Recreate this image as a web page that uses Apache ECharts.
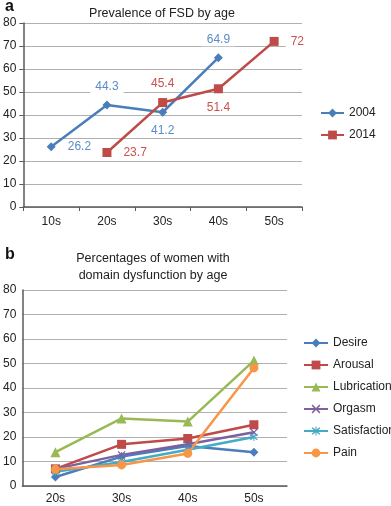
<!DOCTYPE html>
<html>
<head>
<meta charset="utf-8">
<script src="https://cdn.jsdelivr.net/npm/echarts@6/dist/echarts.min.js"></script>
<style>
  html, body { margin: 0; padding: 0; background: #fff; }
  #chart { width: 391px; height: 506px; }
</style>
</head>
<body>
<div id="chart"></div>
<script>
// chart a
const agesA = ['10s', '20s', '30s', '40s', '50s']
const fsd2004 = [26.2, 44.3, 41.2, 64.9, null]
const fsd2014 = [null, 23.7, 45.4, 51.4, 72]
const lblPos2004 = ['right', 'top', 'bottom', 'top', 'top']
const lblPos2014 = ['right', 'right', 'top', 'bottom', 'right']

// chart b
const agesB = ['20s', '30s', '40s', '50s']
const desire = [3.7, 12, 16.3, 13.8]
const arousal = [7, 17, 19.4, 25]
const lubrication = [13.8, 27.6, 26.3, 51.2]
const orgasm = [7, 12.7, 17, 21.9]
const satisfaction = [5.8, 9.8, 14.8, 20]
const pain = [6.8, 8.6, 13.3, 48.2]

const yTicks = [0, 10, 20, 30, 40, 50, 60, 70, 80]

const font = 'Liberation Sans, Arial, sans-serif'
const xMark = 'path://M0,1.2L1.2,0L5,3.8L8.8,0L10,1.2L6.2,5L10,8.8L8.8,10L5,6.2L1.2,10L0,8.8L3.8,5Z'
const starMark = 'path://M0,1.2L1.2,0L5,3.8L8.8,0L10,1.2L6.2,5L10,8.8L8.8,10L5,6.2L1.2,10L0,8.8L3.8,5Z' +
  'M4.4,-1L5.6,-1L5.6,11L4.4,11Z'

const chart = echarts.init(document.getElementById('chart'))

const withLabels = (vals, pos) => vals.map((v, i) => v == null ? '-' : {
  value: v,
  label: {position: pos[i]}
})

const lineA = (name, vals, pos, color, lblColor, symbol, size) => ({
  name: name,
  type: 'line',
  xAxisIndex: 0,
  yAxisIndex: 0,
  data: withLabels(vals, pos),
  symbol: symbol,
  symbolSize: size,
  color: color,
  lineStyle: {width: 2.5, color: color},
  itemStyle: {color: color},
  label: {
    show: true,
    color: lblColor,
    fontSize: 12,
    fontFamily: font,
    distance: 7,
    backgroundColor: '#fff',
    padding: [1, 5]
  },
  emphasis: {disabled: true}
})

const lineB = (name, vals, color, symbol, size) => ({
  name: name,
  type: 'line',
  xAxisIndex: 1,
  yAxisIndex: 1,
  data: vals,
  symbol: symbol,
  symbolSize: size,
  color: color,
  lineStyle: {width: 2.5, color: color},
  itemStyle: {color: color},
  emphasis: {disabled: true}
})

const yAxisBase = (grid, tick) => ({
  type: 'value',
  gridIndex: grid,
  min: yTicks[0],
  max: yTicks[yTicks.length - 1],
  interval: yTicks[1] - yTicks[0],
  axisLine: {show: true, lineStyle: {color: '#5a5a5a', width: 1.5}},
  axisTick: {show: tick, length: 4, lineStyle: {color: '#5a5a5a'}},
  axisLabel: {color: '#222', fontSize: 12, fontFamily: font, margin: tick ? 7 : 6},
  splitLine: {lineStyle: {color: '#b0b0b0', width: 1}}
})

const legendBase = {
  orient: 'vertical',
  padding: 0,
  itemHeight: 11,
  itemGap: 10,
  itemStyle: {borderWidth: 0},
  textStyle: {fontSize: 12, color: '#222', fontFamily: font}
}

chart.setOption({
  animation: false,
  title: [
    {text: 'a', left: 0, top: -6, textStyle: {fontSize: 16, fontWeight: 'bold', color: '#111', fontFamily: font}},
    {text: 'Prevalence of FSD by age', left: 157, top: 2, textAlign: 'center',
      textStyle: {fontSize: 12.5, fontWeight: 'normal', color: '#222', fontFamily: font}},
    {text: 'b', left: 0, top: 242, textStyle: {fontSize: 16, fontWeight: 'bold', color: '#111', fontFamily: font}},
    {text: 'Percentages of women with\ndomain dysfunction by age', left: 148, top: 245, textAlign: 'center',
      textStyle: {fontSize: 12.5, fontWeight: 'normal', color: '#222', fontFamily: font, lineHeight: 17}}
  ],
  legend: [
    Object.assign({}, legendBase, {
      data: ['2004', '2014'],
      left: 320,
      top: 107,
      itemWidth: 23
    }),
    Object.assign({}, legendBase, {
      data: ['Desire', 'Arousal', 'Lubrication', 'Orgasm', 'Satisfaction', 'Pain'],
      left: 303,
      top: 337,
      itemWidth: 24
    })
  ],
  grid: [
    {left: 23, top: 23, width: 279, height: 184},
    {left: 20, top: 290, width: 267, height: 196}
  ],
  xAxis: [
    {
      type: 'category',
      gridIndex: 0,
      data: agesA,
      boundaryGap: true,
      axisLine: {lineStyle: {color: '#5a5a5a', width: 1.5}},
      axisTick: {show: true, length: 4, lineStyle: {color: '#5a5a5a'}},
      axisLabel: {color: '#222', fontSize: 12, fontFamily: font, margin: 9}
    },
    {
      type: 'category',
      gridIndex: 1,
      data: agesB,
      boundaryGap: true,
      axisLine: {lineStyle: {color: '#5a5a5a', width: 1.5}},
      axisTick: {show: false},
      axisLabel: {color: '#222', fontSize: 12, fontFamily: font, margin: 7}
    }
  ],
  yAxis: [yAxisBase(0, true), yAxisBase(1, false)],
  series: [
    lineA('2004', fsd2004, lblPos2004, '#4a7ebb', '#5b8cc8', 'diamond', 9),
    lineA('2014', fsd2014, lblPos2014, '#be4b48', '#c9514e', 'rect', 9),
    lineB('Desire', desire, '#4a7ebb', 'diamond', 9),
    lineB('Arousal', arousal, '#be4b48', 'rect', 9),
    lineB('Lubrication', lubrication, '#98b954', 'triangle', 10),
    lineB('Orgasm', orgasm, '#7d60a0', xMark, 8),
    lineB('Satisfaction', satisfaction, '#46aac5', starMark, 8),
    lineB('Pain', pain, '#f79646', 'circle', 9)
  ]
})
</script>
</body>
</html>
